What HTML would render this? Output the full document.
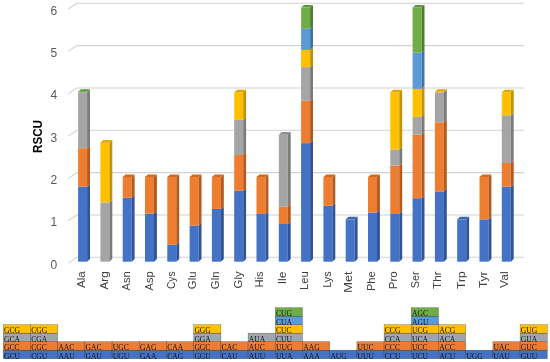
<!DOCTYPE html>
<html><head><meta charset="utf-8"><title>RSCU</title>
<style>
html,body{margin:0;padding:0;background:#fff;}
body{width:550px;height:362px;overflow:hidden;font-family:"Liberation Sans",sans-serif;}
svg{display:block;font-family:"Liberation Sans",sans-serif;}
</style></head><body>
<svg width="550" height="362" viewBox="0 0 550 362">
<rect width="550" height="362" fill="#fff"/>
<polyline points="68.3,263.1 76.8,257.3 524.0,257.3" fill="none" stroke="#D2D2D2" stroke-width="1.05"/>
<polyline points="68.3,220.8 76.8,215.0 524.0,215.0" fill="none" stroke="#D2D2D2" stroke-width="1.05"/>
<polyline points="68.3,178.4 76.8,172.6 524.0,172.6" fill="none" stroke="#D2D2D2" stroke-width="1.05"/>
<polyline points="68.3,136.1 76.8,130.2 524.0,130.2" fill="none" stroke="#D2D2D2" stroke-width="1.05"/>
<polyline points="68.3,93.7 76.8,87.9 524.0,87.9" fill="none" stroke="#D2D2D2" stroke-width="1.05"/>
<polyline points="68.3,51.4 76.8,45.6 524.0,45.6" fill="none" stroke="#D2D2D2" stroke-width="1.05"/>
<polyline points="68.3,9.0 76.8,3.2 524.0,3.2" fill="none" stroke="#D2D2D2" stroke-width="1.05"/>
<text x="57.3" y="268.6" text-anchor="end" font-size="12" fill="#595959">0</text>
<text x="57.3" y="226.3" text-anchor="end" font-size="12" fill="#595959">1</text>
<text x="57.3" y="183.9" text-anchor="end" font-size="12" fill="#595959">2</text>
<text x="57.3" y="141.6" text-anchor="end" font-size="12" fill="#595959">3</text>
<text x="57.3" y="99.2" text-anchor="end" font-size="12" fill="#595959">4</text>
<text x="57.3" y="56.9" text-anchor="end" font-size="12" fill="#595959">5</text>
<text x="57.3" y="14.5" text-anchor="end" font-size="12" fill="#595959">6</text>
<text transform="translate(42.2,136.5) rotate(-90) scale(0.865,1)" text-anchor="middle" font-size="13.5" font-weight="bold" fill="#000">RSCU</text>
<rect x="78.1" y="186.74" width="9.0" height="74.96" fill="#4472C4"/>
<polygon points="87.1,261.70 90.0,259.10 90.0,184.14 87.1,186.74" fill="#2F5597"/>
<rect x="78.1" y="148.20" width="9.0" height="38.54" fill="#ED7D31"/>
<polygon points="87.1,186.74 90.0,184.14 90.0,145.60 87.1,148.20" fill="#B55A1C"/>
<rect x="78.1" y="92.30" width="9.0" height="55.90" fill="#A5A5A5"/>
<polygon points="87.1,148.20 90.0,145.60 90.0,89.70 87.1,92.30" fill="#7B7B7B"/>
<rect x="78.1" y="91.79" width="9.0" height="0.51" fill="#70AD47"/>
<polygon points="87.1,92.30 90.0,89.70 90.0,89.19 87.1,91.79" fill="#4F7D30"/>
<polygon points="78.1,91.79 87.1,91.79 90.0,89.19 81.0,89.19" fill="#5F963B"/>
<text transform="translate(85.1,271.4) rotate(-90)" text-anchor="end" font-size="11" textLength="16.6" lengthAdjust="spacingAndGlyphs" fill="#404040">Ala</text>
<rect x="100.4" y="202.41" width="9.0" height="59.29" fill="#A5A5A5"/>
<polygon points="109.4,261.70 112.3,259.10 112.3,199.81 109.4,202.41" fill="#7B7B7B"/>
<rect x="100.4" y="142.70" width="9.0" height="59.71" fill="#FFC000"/>
<polygon points="109.4,202.41 112.3,199.81 112.3,140.10 109.4,142.70" fill="#C39300"/>
<polygon points="100.4,142.70 109.4,142.70 112.3,140.10 103.3,140.10" fill="#E0A900"/>
<text transform="translate(108.3,271.4) rotate(-90)" text-anchor="end" font-size="11" textLength="18.0" lengthAdjust="spacingAndGlyphs" fill="#404040">Arg</text>
<rect x="122.7" y="197.75" width="9.0" height="63.95" fill="#4472C4"/>
<polygon points="131.7,261.70 134.6,259.10 134.6,195.15 131.7,197.75" fill="#2F5597"/>
<rect x="122.7" y="177.00" width="9.0" height="20.75" fill="#ED7D31"/>
<polygon points="131.7,197.75 134.6,195.15 134.6,174.40 131.7,177.00" fill="#B55A1C"/>
<polygon points="122.7,177.00 131.7,177.00 134.6,174.40 125.6,174.40" fill="#D06A25"/>
<text transform="translate(129.6,271.4) rotate(-90)" text-anchor="end" font-size="11" textLength="19.1" lengthAdjust="spacingAndGlyphs" fill="#404040">Asn</text>
<rect x="145.0" y="213.59" width="9.0" height="48.11" fill="#4472C4"/>
<polygon points="154.0,261.70 156.9,259.10 156.9,210.99 154.0,213.59" fill="#2F5597"/>
<rect x="145.0" y="177.00" width="9.0" height="36.59" fill="#ED7D31"/>
<polygon points="154.0,213.59 156.9,210.99 156.9,174.40 154.0,177.00" fill="#B55A1C"/>
<polygon points="145.0,177.00 154.0,177.00 156.9,174.40 147.9,174.40" fill="#D06A25"/>
<text transform="translate(152.8,271.4) rotate(-90)" text-anchor="end" font-size="11" textLength="19.1" lengthAdjust="spacingAndGlyphs" fill="#404040">Asp</text>
<rect x="167.3" y="244.76" width="9.0" height="16.94" fill="#4472C4"/>
<polygon points="176.3,261.70 179.2,259.10 179.2,242.16 176.3,244.76" fill="#2F5597"/>
<rect x="167.3" y="177.00" width="9.0" height="67.76" fill="#ED7D31"/>
<polygon points="176.3,244.76 179.2,242.16 179.2,174.40 176.3,177.00" fill="#B55A1C"/>
<polygon points="167.3,177.00 176.3,177.00 179.2,174.40 170.2,174.40" fill="#D06A25"/>
<text transform="translate(175.1,271.4) rotate(-90)" text-anchor="end" font-size="11" textLength="17.7" lengthAdjust="spacingAndGlyphs" fill="#404040">Cys</text>
<rect x="189.6" y="225.49" width="9.0" height="36.21" fill="#4472C4"/>
<polygon points="198.6,261.70 201.5,259.10 201.5,222.89 198.6,225.49" fill="#2F5597"/>
<rect x="189.6" y="177.00" width="9.0" height="48.49" fill="#ED7D31"/>
<polygon points="198.6,225.49 201.5,222.89 201.5,174.40 198.6,177.00" fill="#B55A1C"/>
<polygon points="189.6,177.00 198.6,177.00 201.5,174.40 192.5,174.40" fill="#D06A25"/>
<text transform="translate(196.4,271.4) rotate(-90)" text-anchor="end" font-size="11" textLength="17.8" lengthAdjust="spacingAndGlyphs" fill="#404040">Glu</text>
<rect x="211.9" y="208.89" width="9.0" height="52.81" fill="#4472C4"/>
<polygon points="220.9,261.70 223.8,259.10 223.8,206.29 220.9,208.89" fill="#2F5597"/>
<rect x="211.9" y="177.00" width="9.0" height="31.89" fill="#ED7D31"/>
<polygon points="220.9,208.89 223.8,206.29 223.8,174.40 220.9,177.00" fill="#B55A1C"/>
<polygon points="211.9,177.00 220.9,177.00 223.8,174.40 214.8,174.40" fill="#D06A25"/>
<text transform="translate(218.7,271.4) rotate(-90)" text-anchor="end" font-size="11" textLength="17.8" lengthAdjust="spacingAndGlyphs" fill="#404040">Gln</text>
<rect x="234.2" y="190.76" width="9.0" height="70.94" fill="#4472C4"/>
<polygon points="243.2,261.70 246.1,259.10 246.1,188.16 243.2,190.76" fill="#2F5597"/>
<rect x="234.2" y="154.98" width="9.0" height="35.79" fill="#ED7D31"/>
<polygon points="243.2,190.76 246.1,188.16 246.1,152.38 243.2,154.98" fill="#B55A1C"/>
<rect x="234.2" y="119.83" width="9.0" height="35.15" fill="#A5A5A5"/>
<polygon points="243.2,154.98 246.1,152.38 246.1,117.23 243.2,119.83" fill="#7B7B7B"/>
<rect x="234.2" y="92.30" width="9.0" height="27.53" fill="#FFC000"/>
<polygon points="243.2,119.83 246.1,117.23 246.1,89.70 243.2,92.30" fill="#C39300"/>
<polygon points="234.2,92.30 243.2,92.30 246.1,89.70 237.1,89.70" fill="#E0A900"/>
<text transform="translate(241.9,271.4) rotate(-90)" text-anchor="end" font-size="11" textLength="17.0" lengthAdjust="spacingAndGlyphs" fill="#404040">Gly</text>
<rect x="256.5" y="214.01" width="9.0" height="47.69" fill="#4472C4"/>
<polygon points="265.5,261.70 268.4,259.10 268.4,211.41 265.5,214.01" fill="#2F5597"/>
<rect x="256.5" y="177.00" width="9.0" height="37.01" fill="#ED7D31"/>
<polygon points="265.5,214.01 268.4,211.41 268.4,174.40 265.5,177.00" fill="#B55A1C"/>
<polygon points="256.5,177.00 265.5,177.00 268.4,174.40 259.4,174.40" fill="#D06A25"/>
<text transform="translate(263.3,271.4) rotate(-90)" text-anchor="end" font-size="11" textLength="16.1" lengthAdjust="spacingAndGlyphs" fill="#404040">His</text>
<rect x="278.8" y="224.01" width="9.0" height="37.69" fill="#4472C4"/>
<polygon points="287.8,261.70 290.7,259.10 290.7,221.41 287.8,224.01" fill="#2F5597"/>
<rect x="278.8" y="206.64" width="9.0" height="17.36" fill="#ED7D31"/>
<polygon points="287.8,224.01 290.7,221.41 290.7,204.04 287.8,206.64" fill="#B55A1C"/>
<rect x="278.8" y="134.65" width="9.0" height="72.00" fill="#A5A5A5"/>
<polygon points="287.8,206.64 290.7,204.04 290.7,132.05 287.8,134.65" fill="#7B7B7B"/>
<polygon points="278.8,134.65 287.8,134.65 290.7,132.05 281.7,132.05" fill="#8F8F8F"/>
<text transform="translate(285.5,271.4) rotate(-90)" text-anchor="end" font-size="11" textLength="12.9" lengthAdjust="spacingAndGlyphs" fill="#404040">Ile</text>
<rect x="301.1" y="143.12" width="9.0" height="118.58" fill="#4472C4"/>
<polygon points="310.1,261.70 313.0,259.10 313.0,140.52 310.1,143.12" fill="#2F5597"/>
<rect x="301.1" y="100.77" width="9.0" height="42.35" fill="#ED7D31"/>
<polygon points="310.1,143.12 313.0,140.52 313.0,98.17 310.1,100.77" fill="#B55A1C"/>
<rect x="301.1" y="67.10" width="9.0" height="33.67" fill="#A5A5A5"/>
<polygon points="310.1,100.77 313.0,98.17 313.0,64.50 310.1,67.10" fill="#7B7B7B"/>
<rect x="301.1" y="49.95" width="9.0" height="17.15" fill="#FFC000"/>
<polygon points="310.1,67.10 313.0,64.50 313.0,47.35 310.1,49.95" fill="#C39300"/>
<rect x="301.1" y="28.77" width="9.0" height="21.18" fill="#5B9BD5"/>
<polygon points="310.1,49.95 313.0,47.35 313.0,26.17 310.1,28.77" fill="#3E74A8"/>
<rect x="301.1" y="7.60" width="9.0" height="21.18" fill="#70AD47"/>
<polygon points="310.1,28.77 313.0,26.17 313.0,5.00 310.1,7.60" fill="#4F7D30"/>
<polygon points="301.1,7.60 310.1,7.60 313.0,5.00 304.0,5.00" fill="#5F963B"/>
<text transform="translate(307.8,271.4) rotate(-90)" text-anchor="end" font-size="11" textLength="18.5" lengthAdjust="spacingAndGlyphs" fill="#404040">Leu</text>
<rect x="323.4" y="205.80" width="9.0" height="55.90" fill="#4472C4"/>
<polygon points="332.4,261.70 335.3,259.10 335.3,203.20 332.4,205.80" fill="#2F5597"/>
<rect x="323.4" y="177.00" width="9.0" height="28.80" fill="#ED7D31"/>
<polygon points="332.4,205.80 335.3,203.20 335.3,174.40 332.4,177.00" fill="#B55A1C"/>
<polygon points="323.4,177.00 332.4,177.00 335.3,174.40 326.3,174.40" fill="#D06A25"/>
<text transform="translate(331.0,271.4) rotate(-90)" text-anchor="end" font-size="11" textLength="16.4" lengthAdjust="spacingAndGlyphs" fill="#404040">Lys</text>
<rect x="345.7" y="219.35" width="9.0" height="42.35" fill="#4472C4"/>
<polygon points="354.7,261.70 357.6,259.10 357.6,216.75 354.7,219.35" fill="#2F5597"/>
<polygon points="345.7,219.35 354.7,219.35 357.6,216.75 348.6,216.75" fill="#3A64AD"/>
<text transform="translate(352.3,271.4) rotate(-90)" text-anchor="end" font-size="11" textLength="21.4" lengthAdjust="spacingAndGlyphs" fill="#404040">Met</text>
<rect x="368.0" y="212.57" width="9.0" height="49.13" fill="#4472C4"/>
<polygon points="377.0,261.70 379.9,259.10 379.9,209.97 377.0,212.57" fill="#2F5597"/>
<rect x="368.0" y="177.00" width="9.0" height="35.57" fill="#ED7D31"/>
<polygon points="377.0,212.57 379.9,209.97 379.9,174.40 377.0,177.00" fill="#B55A1C"/>
<polygon points="368.0,177.00 377.0,177.00 379.9,174.40 370.9,174.40" fill="#D06A25"/>
<text transform="translate(374.6,271.4) rotate(-90)" text-anchor="end" font-size="11" textLength="19.7" lengthAdjust="spacingAndGlyphs" fill="#404040">Phe</text>
<rect x="390.3" y="214.01" width="9.0" height="47.69" fill="#4472C4"/>
<polygon points="399.3,261.70 402.2,259.10 402.2,211.41 399.3,214.01" fill="#2F5597"/>
<rect x="390.3" y="165.57" width="9.0" height="48.45" fill="#ED7D31"/>
<polygon points="399.3,214.01 402.2,211.41 402.2,162.97 399.3,165.57" fill="#B55A1C"/>
<rect x="390.3" y="149.47" width="9.0" height="16.09" fill="#A5A5A5"/>
<polygon points="399.3,165.57 402.2,162.97 402.2,146.87 399.3,149.47" fill="#7B7B7B"/>
<rect x="390.3" y="92.30" width="9.0" height="57.17" fill="#FFC000"/>
<polygon points="399.3,149.47 402.2,146.87 402.2,89.70 399.3,92.30" fill="#C39300"/>
<polygon points="390.3,92.30 399.3,92.30 402.2,89.70 393.2,89.70" fill="#E0A900"/>
<text transform="translate(396.9,271.4) rotate(-90)" text-anchor="end" font-size="11" textLength="17.9" lengthAdjust="spacingAndGlyphs" fill="#404040">Pro</text>
<rect x="412.6" y="198.17" width="9.0" height="63.53" fill="#4472C4"/>
<polygon points="421.6,261.70 424.5,259.10 424.5,195.57 421.6,198.17" fill="#2F5597"/>
<rect x="412.6" y="134.65" width="9.0" height="63.53" fill="#ED7D31"/>
<polygon points="421.6,198.17 424.5,195.57 424.5,132.05 421.6,134.65" fill="#B55A1C"/>
<rect x="412.6" y="116.86" width="9.0" height="17.79" fill="#A5A5A5"/>
<polygon points="421.6,134.65 424.5,132.05 424.5,114.26 421.6,116.86" fill="#7B7B7B"/>
<rect x="412.6" y="88.91" width="9.0" height="27.95" fill="#FFC000"/>
<polygon points="421.6,116.86 424.5,114.26 424.5,86.31 421.6,88.91" fill="#C39300"/>
<rect x="412.6" y="52.70" width="9.0" height="36.21" fill="#5B9BD5"/>
<polygon points="421.6,88.91 424.5,86.31 424.5,50.10 421.6,52.70" fill="#3E74A8"/>
<rect x="412.6" y="7.60" width="9.0" height="45.10" fill="#70AD47"/>
<polygon points="421.6,52.70 424.5,50.10 424.5,5.00 421.6,7.60" fill="#4F7D30"/>
<polygon points="412.6,7.60 421.6,7.60 424.5,5.00 415.5,5.00" fill="#5F963B"/>
<text transform="translate(419.1,271.4) rotate(-90)" text-anchor="end" font-size="11" textLength="16.9" lengthAdjust="spacingAndGlyphs" fill="#404040">Ser</text>
<rect x="434.9" y="191.40" width="9.0" height="70.30" fill="#4472C4"/>
<polygon points="443.9,261.70 446.8,259.10 446.8,188.80 443.9,191.40" fill="#2F5597"/>
<rect x="434.9" y="122.37" width="9.0" height="69.03" fill="#ED7D31"/>
<polygon points="443.9,191.40 446.8,188.80 446.8,119.77 443.9,122.37" fill="#B55A1C"/>
<rect x="434.9" y="92.30" width="9.0" height="30.07" fill="#A5A5A5"/>
<polygon points="443.9,122.37 446.8,119.77 446.8,89.70 443.9,92.30" fill="#7B7B7B"/>
<rect x="434.9" y="91.79" width="9.0" height="0.51" fill="#FFC000"/>
<polygon points="443.9,92.30 446.8,89.70 446.8,89.19 443.9,91.79" fill="#C39300"/>
<polygon points="434.9,91.79 443.9,91.79 446.8,89.19 437.8,89.19" fill="#E0A900"/>
<text transform="translate(441.4,271.4) rotate(-90)" text-anchor="end" font-size="11" textLength="17.5" lengthAdjust="spacingAndGlyphs" fill="#404040">Thr</text>
<rect x="457.2" y="219.35" width="9.0" height="42.35" fill="#4472C4"/>
<polygon points="466.2,261.70 469.1,259.10 469.1,216.75 466.2,219.35" fill="#2F5597"/>
<polygon points="457.2,219.35 466.2,219.35 469.1,216.75 460.1,216.75" fill="#3A64AD"/>
<text transform="translate(464.6,271.4) rotate(-90)" text-anchor="end" font-size="11" textLength="17.5" lengthAdjust="spacingAndGlyphs" fill="#404040">Trp</text>
<rect x="479.5" y="219.35" width="9.0" height="42.35" fill="#4472C4"/>
<polygon points="488.5,261.70 491.4,259.10 491.4,216.75 488.5,219.35" fill="#2F5597"/>
<rect x="479.5" y="177.00" width="9.0" height="42.35" fill="#ED7D31"/>
<polygon points="488.5,219.35 491.4,216.75 491.4,174.40 488.5,177.00" fill="#B55A1C"/>
<polygon points="479.5,177.00 488.5,177.00 491.4,174.40 482.4,174.40" fill="#D06A25"/>
<text transform="translate(486.9,271.4) rotate(-90)" text-anchor="end" font-size="11" textLength="16.7" lengthAdjust="spacingAndGlyphs" fill="#404040">Tyr</text>
<rect x="501.8" y="186.74" width="9.0" height="74.96" fill="#4472C4"/>
<polygon points="510.8,261.70 513.7,259.10 513.7,184.14 510.8,186.74" fill="#2F5597"/>
<rect x="501.8" y="163.02" width="9.0" height="23.72" fill="#ED7D31"/>
<polygon points="510.8,186.74 513.7,184.14 513.7,160.42 510.8,163.02" fill="#B55A1C"/>
<rect x="501.8" y="115.30" width="9.0" height="47.73" fill="#A5A5A5"/>
<polygon points="510.8,163.02 513.7,160.42 513.7,112.70 510.8,115.30" fill="#7B7B7B"/>
<rect x="501.8" y="92.30" width="9.0" height="23.00" fill="#FFC000"/>
<polygon points="510.8,115.30 513.7,112.70 513.7,89.70 510.8,92.30" fill="#C39300"/>
<polygon points="501.8,92.30 510.8,92.30 513.7,89.70 504.7,89.70" fill="#E0A900"/>
<text transform="translate(508.2,271.4) rotate(-90)" text-anchor="end" font-size="11" textLength="16.5" lengthAdjust="spacingAndGlyphs" fill="#404040">Val</text>
<rect x="3.30" y="350.20" width="27.2" height="8.5" fill="#4472C4" stroke="#000" stroke-opacity="0.45" stroke-width="0.5"/>
<text x="4.00" y="358.60" font-family="'Liberation Serif', serif" font-size="7.6" fill="#111">GCU</text>
<rect x="3.30" y="341.70" width="27.2" height="8.5" fill="#ED7D31" stroke="#000" stroke-opacity="0.45" stroke-width="0.5"/>
<text x="4.00" y="350.10" font-family="'Liberation Serif', serif" font-size="7.6" fill="#111">GCC</text>
<rect x="3.30" y="333.20" width="27.2" height="8.5" fill="#A5A5A5" stroke="#000" stroke-opacity="0.45" stroke-width="0.5"/>
<text x="4.00" y="341.60" font-family="'Liberation Serif', serif" font-size="7.6" fill="#111">GCA</text>
<rect x="3.30" y="324.70" width="27.2" height="8.5" fill="#FFC000" stroke="#000" stroke-opacity="0.45" stroke-width="0.5"/>
<text x="4.00" y="333.10" font-family="'Liberation Serif', serif" font-size="7.6" fill="#111">GCG</text>
<rect x="30.50" y="350.20" width="27.2" height="8.5" fill="#4472C4" stroke="#000" stroke-opacity="0.45" stroke-width="0.5"/>
<text x="31.20" y="358.60" font-family="'Liberation Serif', serif" font-size="7.6" fill="#111">CGU</text>
<rect x="30.50" y="341.70" width="27.2" height="8.5" fill="#ED7D31" stroke="#000" stroke-opacity="0.45" stroke-width="0.5"/>
<text x="31.20" y="350.10" font-family="'Liberation Serif', serif" font-size="7.6" fill="#111">CGC</text>
<rect x="30.50" y="333.20" width="27.2" height="8.5" fill="#A5A5A5" stroke="#000" stroke-opacity="0.45" stroke-width="0.5"/>
<text x="31.20" y="341.60" font-family="'Liberation Serif', serif" font-size="7.6" fill="#111">CGA</text>
<rect x="30.50" y="324.70" width="27.2" height="8.5" fill="#FFC000" stroke="#000" stroke-opacity="0.45" stroke-width="0.5"/>
<text x="31.20" y="333.10" font-family="'Liberation Serif', serif" font-size="7.6" fill="#111">CGG</text>
<rect x="57.70" y="350.20" width="27.2" height="8.5" fill="#4472C4" stroke="#000" stroke-opacity="0.45" stroke-width="0.5"/>
<text x="58.40" y="358.60" font-family="'Liberation Serif', serif" font-size="7.6" fill="#111">AAU</text>
<rect x="57.70" y="341.70" width="27.2" height="8.5" fill="#ED7D31" stroke="#000" stroke-opacity="0.45" stroke-width="0.5"/>
<text x="58.40" y="350.10" font-family="'Liberation Serif', serif" font-size="7.6" fill="#111">AAC</text>
<rect x="84.90" y="350.20" width="27.2" height="8.5" fill="#4472C4" stroke="#000" stroke-opacity="0.45" stroke-width="0.5"/>
<text x="85.60" y="358.60" font-family="'Liberation Serif', serif" font-size="7.6" fill="#111">GAU</text>
<rect x="84.90" y="341.70" width="27.2" height="8.5" fill="#ED7D31" stroke="#000" stroke-opacity="0.45" stroke-width="0.5"/>
<text x="85.60" y="350.10" font-family="'Liberation Serif', serif" font-size="7.6" fill="#111">GAC</text>
<rect x="112.10" y="350.20" width="27.2" height="8.5" fill="#4472C4" stroke="#000" stroke-opacity="0.45" stroke-width="0.5"/>
<text x="112.80" y="358.60" font-family="'Liberation Serif', serif" font-size="7.6" fill="#111">UGU</text>
<rect x="112.10" y="341.70" width="27.2" height="8.5" fill="#ED7D31" stroke="#000" stroke-opacity="0.45" stroke-width="0.5"/>
<text x="112.80" y="350.10" font-family="'Liberation Serif', serif" font-size="7.6" fill="#111">UGC</text>
<rect x="139.30" y="350.20" width="27.2" height="8.5" fill="#4472C4" stroke="#000" stroke-opacity="0.45" stroke-width="0.5"/>
<text x="140.00" y="358.60" font-family="'Liberation Serif', serif" font-size="7.6" fill="#111">GAA</text>
<rect x="139.30" y="341.70" width="27.2" height="8.5" fill="#ED7D31" stroke="#000" stroke-opacity="0.45" stroke-width="0.5"/>
<text x="140.00" y="350.10" font-family="'Liberation Serif', serif" font-size="7.6" fill="#111">GAG</text>
<rect x="166.50" y="350.20" width="27.2" height="8.5" fill="#4472C4" stroke="#000" stroke-opacity="0.45" stroke-width="0.5"/>
<text x="167.20" y="358.60" font-family="'Liberation Serif', serif" font-size="7.6" fill="#111">CAG</text>
<rect x="166.50" y="341.70" width="27.2" height="8.5" fill="#ED7D31" stroke="#000" stroke-opacity="0.45" stroke-width="0.5"/>
<text x="167.20" y="350.10" font-family="'Liberation Serif', serif" font-size="7.6" fill="#111">CAA</text>
<rect x="193.70" y="350.20" width="27.2" height="8.5" fill="#4472C4" stroke="#000" stroke-opacity="0.45" stroke-width="0.5"/>
<text x="194.40" y="358.60" font-family="'Liberation Serif', serif" font-size="7.6" fill="#111">GGU</text>
<rect x="193.70" y="341.70" width="27.2" height="8.5" fill="#ED7D31" stroke="#000" stroke-opacity="0.45" stroke-width="0.5"/>
<text x="194.40" y="350.10" font-family="'Liberation Serif', serif" font-size="7.6" fill="#111">GGC</text>
<rect x="193.70" y="333.20" width="27.2" height="8.5" fill="#A5A5A5" stroke="#000" stroke-opacity="0.45" stroke-width="0.5"/>
<text x="194.40" y="341.60" font-family="'Liberation Serif', serif" font-size="7.6" fill="#111">GGA</text>
<rect x="193.70" y="324.70" width="27.2" height="8.5" fill="#FFC000" stroke="#000" stroke-opacity="0.45" stroke-width="0.5"/>
<text x="194.40" y="333.10" font-family="'Liberation Serif', serif" font-size="7.6" fill="#111">GGG</text>
<rect x="220.90" y="350.20" width="27.2" height="8.5" fill="#4472C4" stroke="#000" stroke-opacity="0.45" stroke-width="0.5"/>
<text x="221.60" y="358.60" font-family="'Liberation Serif', serif" font-size="7.6" fill="#111">CAU</text>
<rect x="220.90" y="341.70" width="27.2" height="8.5" fill="#ED7D31" stroke="#000" stroke-opacity="0.45" stroke-width="0.5"/>
<text x="221.60" y="350.10" font-family="'Liberation Serif', serif" font-size="7.6" fill="#111">CAC</text>
<rect x="248.10" y="350.20" width="27.2" height="8.5" fill="#4472C4" stroke="#000" stroke-opacity="0.45" stroke-width="0.5"/>
<text x="248.80" y="358.60" font-family="'Liberation Serif', serif" font-size="7.6" fill="#111">AUU</text>
<rect x="248.10" y="341.70" width="27.2" height="8.5" fill="#ED7D31" stroke="#000" stroke-opacity="0.45" stroke-width="0.5"/>
<text x="248.80" y="350.10" font-family="'Liberation Serif', serif" font-size="7.6" fill="#111">AUC</text>
<rect x="248.10" y="333.20" width="27.2" height="8.5" fill="#A5A5A5" stroke="#000" stroke-opacity="0.45" stroke-width="0.5"/>
<text x="248.80" y="341.60" font-family="'Liberation Serif', serif" font-size="7.6" fill="#111">AUA</text>
<rect x="275.30" y="350.20" width="27.2" height="8.5" fill="#4472C4" stroke="#000" stroke-opacity="0.45" stroke-width="0.5"/>
<text x="276.00" y="358.60" font-family="'Liberation Serif', serif" font-size="7.6" fill="#111">UUA</text>
<rect x="275.30" y="341.70" width="27.2" height="8.5" fill="#ED7D31" stroke="#000" stroke-opacity="0.45" stroke-width="0.5"/>
<text x="276.00" y="350.10" font-family="'Liberation Serif', serif" font-size="7.6" fill="#111">UUG</text>
<rect x="275.30" y="333.20" width="27.2" height="8.5" fill="#A5A5A5" stroke="#000" stroke-opacity="0.45" stroke-width="0.5"/>
<text x="276.00" y="341.60" font-family="'Liberation Serif', serif" font-size="7.6" fill="#111">CUU</text>
<rect x="275.30" y="324.70" width="27.2" height="8.5" fill="#FFC000" stroke="#000" stroke-opacity="0.45" stroke-width="0.5"/>
<text x="276.00" y="333.10" font-family="'Liberation Serif', serif" font-size="7.6" fill="#111">CUC</text>
<rect x="275.30" y="316.20" width="27.2" height="8.5" fill="#5B9BD5" stroke="#000" stroke-opacity="0.45" stroke-width="0.5"/>
<text x="276.00" y="324.60" font-family="'Liberation Serif', serif" font-size="7.6" fill="#111">CUA</text>
<rect x="275.30" y="307.70" width="27.2" height="8.5" fill="#70AD47" stroke="#000" stroke-opacity="0.45" stroke-width="0.5"/>
<text x="276.00" y="316.10" font-family="'Liberation Serif', serif" font-size="7.6" fill="#111">CUG</text>
<rect x="302.50" y="350.20" width="27.2" height="8.5" fill="#4472C4" stroke="#000" stroke-opacity="0.45" stroke-width="0.5"/>
<text x="303.20" y="358.60" font-family="'Liberation Serif', serif" font-size="7.6" fill="#111">AAA</text>
<rect x="302.50" y="341.70" width="27.2" height="8.5" fill="#ED7D31" stroke="#000" stroke-opacity="0.45" stroke-width="0.5"/>
<text x="303.20" y="350.10" font-family="'Liberation Serif', serif" font-size="7.6" fill="#111">AAG</text>
<rect x="329.70" y="350.20" width="27.2" height="8.5" fill="#4472C4" stroke="#000" stroke-opacity="0.45" stroke-width="0.5"/>
<text x="330.40" y="358.60" font-family="'Liberation Serif', serif" font-size="7.6" fill="#111">AUG</text>
<rect x="356.90" y="350.20" width="27.2" height="8.5" fill="#4472C4" stroke="#000" stroke-opacity="0.45" stroke-width="0.5"/>
<text x="357.60" y="358.60" font-family="'Liberation Serif', serif" font-size="7.6" fill="#111">UUU</text>
<rect x="356.90" y="341.70" width="27.2" height="8.5" fill="#ED7D31" stroke="#000" stroke-opacity="0.45" stroke-width="0.5"/>
<text x="357.60" y="350.10" font-family="'Liberation Serif', serif" font-size="7.6" fill="#111">UUC</text>
<rect x="384.10" y="350.20" width="27.2" height="8.5" fill="#4472C4" stroke="#000" stroke-opacity="0.45" stroke-width="0.5"/>
<text x="384.80" y="358.60" font-family="'Liberation Serif', serif" font-size="7.6" fill="#111">CCU</text>
<rect x="384.10" y="341.70" width="27.2" height="8.5" fill="#ED7D31" stroke="#000" stroke-opacity="0.45" stroke-width="0.5"/>
<text x="384.80" y="350.10" font-family="'Liberation Serif', serif" font-size="7.6" fill="#111">CCC</text>
<rect x="384.10" y="333.20" width="27.2" height="8.5" fill="#A5A5A5" stroke="#000" stroke-opacity="0.45" stroke-width="0.5"/>
<text x="384.80" y="341.60" font-family="'Liberation Serif', serif" font-size="7.6" fill="#111">CCA</text>
<rect x="384.10" y="324.70" width="27.2" height="8.5" fill="#FFC000" stroke="#000" stroke-opacity="0.45" stroke-width="0.5"/>
<text x="384.80" y="333.10" font-family="'Liberation Serif', serif" font-size="7.6" fill="#111">CCG</text>
<rect x="411.30" y="350.20" width="27.2" height="8.5" fill="#4472C4" stroke="#000" stroke-opacity="0.45" stroke-width="0.5"/>
<text x="412.00" y="358.60" font-family="'Liberation Serif', serif" font-size="7.6" fill="#111">UCU</text>
<rect x="411.30" y="341.70" width="27.2" height="8.5" fill="#ED7D31" stroke="#000" stroke-opacity="0.45" stroke-width="0.5"/>
<text x="412.00" y="350.10" font-family="'Liberation Serif', serif" font-size="7.6" fill="#111">UCC</text>
<rect x="411.30" y="333.20" width="27.2" height="8.5" fill="#A5A5A5" stroke="#000" stroke-opacity="0.45" stroke-width="0.5"/>
<text x="412.00" y="341.60" font-family="'Liberation Serif', serif" font-size="7.6" fill="#111">UCA</text>
<rect x="411.30" y="324.70" width="27.2" height="8.5" fill="#FFC000" stroke="#000" stroke-opacity="0.45" stroke-width="0.5"/>
<text x="412.00" y="333.10" font-family="'Liberation Serif', serif" font-size="7.6" fill="#111">UCG</text>
<rect x="411.30" y="316.20" width="27.2" height="8.5" fill="#5B9BD5" stroke="#000" stroke-opacity="0.45" stroke-width="0.5"/>
<text x="412.00" y="324.60" font-family="'Liberation Serif', serif" font-size="7.6" fill="#111">AGU</text>
<rect x="411.30" y="307.70" width="27.2" height="8.5" fill="#70AD47" stroke="#000" stroke-opacity="0.45" stroke-width="0.5"/>
<text x="412.00" y="316.10" font-family="'Liberation Serif', serif" font-size="7.6" fill="#111">AGC</text>
<rect x="438.50" y="350.20" width="27.2" height="8.5" fill="#4472C4" stroke="#000" stroke-opacity="0.45" stroke-width="0.5"/>
<text x="439.20" y="358.60" font-family="'Liberation Serif', serif" font-size="7.6" fill="#111">ACU</text>
<rect x="438.50" y="341.70" width="27.2" height="8.5" fill="#ED7D31" stroke="#000" stroke-opacity="0.45" stroke-width="0.5"/>
<text x="439.20" y="350.10" font-family="'Liberation Serif', serif" font-size="7.6" fill="#111">ACC</text>
<rect x="438.50" y="333.20" width="27.2" height="8.5" fill="#A5A5A5" stroke="#000" stroke-opacity="0.45" stroke-width="0.5"/>
<text x="439.20" y="341.60" font-family="'Liberation Serif', serif" font-size="7.6" fill="#111">ACA</text>
<rect x="438.50" y="324.70" width="27.2" height="8.5" fill="#FFC000" stroke="#000" stroke-opacity="0.45" stroke-width="0.5"/>
<text x="439.20" y="333.10" font-family="'Liberation Serif', serif" font-size="7.6" fill="#111">ACG</text>
<rect x="465.70" y="350.20" width="27.2" height="8.5" fill="#4472C4" stroke="#000" stroke-opacity="0.45" stroke-width="0.5"/>
<text x="466.40" y="358.60" font-family="'Liberation Serif', serif" font-size="7.6" fill="#111">UGG</text>
<rect x="492.90" y="350.20" width="27.2" height="8.5" fill="#4472C4" stroke="#000" stroke-opacity="0.45" stroke-width="0.5"/>
<text x="493.60" y="358.60" font-family="'Liberation Serif', serif" font-size="7.6" fill="#111">UAU</text>
<rect x="492.90" y="341.70" width="27.2" height="8.5" fill="#ED7D31" stroke="#000" stroke-opacity="0.45" stroke-width="0.5"/>
<text x="493.60" y="350.10" font-family="'Liberation Serif', serif" font-size="7.6" fill="#111">UAC</text>
<rect x="520.10" y="350.20" width="27.2" height="8.5" fill="#4472C4" stroke="#000" stroke-opacity="0.45" stroke-width="0.5"/>
<text x="520.80" y="358.60" font-family="'Liberation Serif', serif" font-size="7.6" fill="#111">GUU</text>
<rect x="520.10" y="341.70" width="27.2" height="8.5" fill="#ED7D31" stroke="#000" stroke-opacity="0.45" stroke-width="0.5"/>
<text x="520.80" y="350.10" font-family="'Liberation Serif', serif" font-size="7.6" fill="#111">GUC</text>
<rect x="520.10" y="333.20" width="27.2" height="8.5" fill="#A5A5A5" stroke="#000" stroke-opacity="0.45" stroke-width="0.5"/>
<text x="520.80" y="341.60" font-family="'Liberation Serif', serif" font-size="7.6" fill="#111">GUA</text>
<rect x="520.10" y="324.70" width="27.2" height="8.5" fill="#FFC000" stroke="#000" stroke-opacity="0.45" stroke-width="0.5"/>
<text x="520.80" y="333.10" font-family="'Liberation Serif', serif" font-size="7.6" fill="#111">GUG</text>
</svg>
</body></html>
